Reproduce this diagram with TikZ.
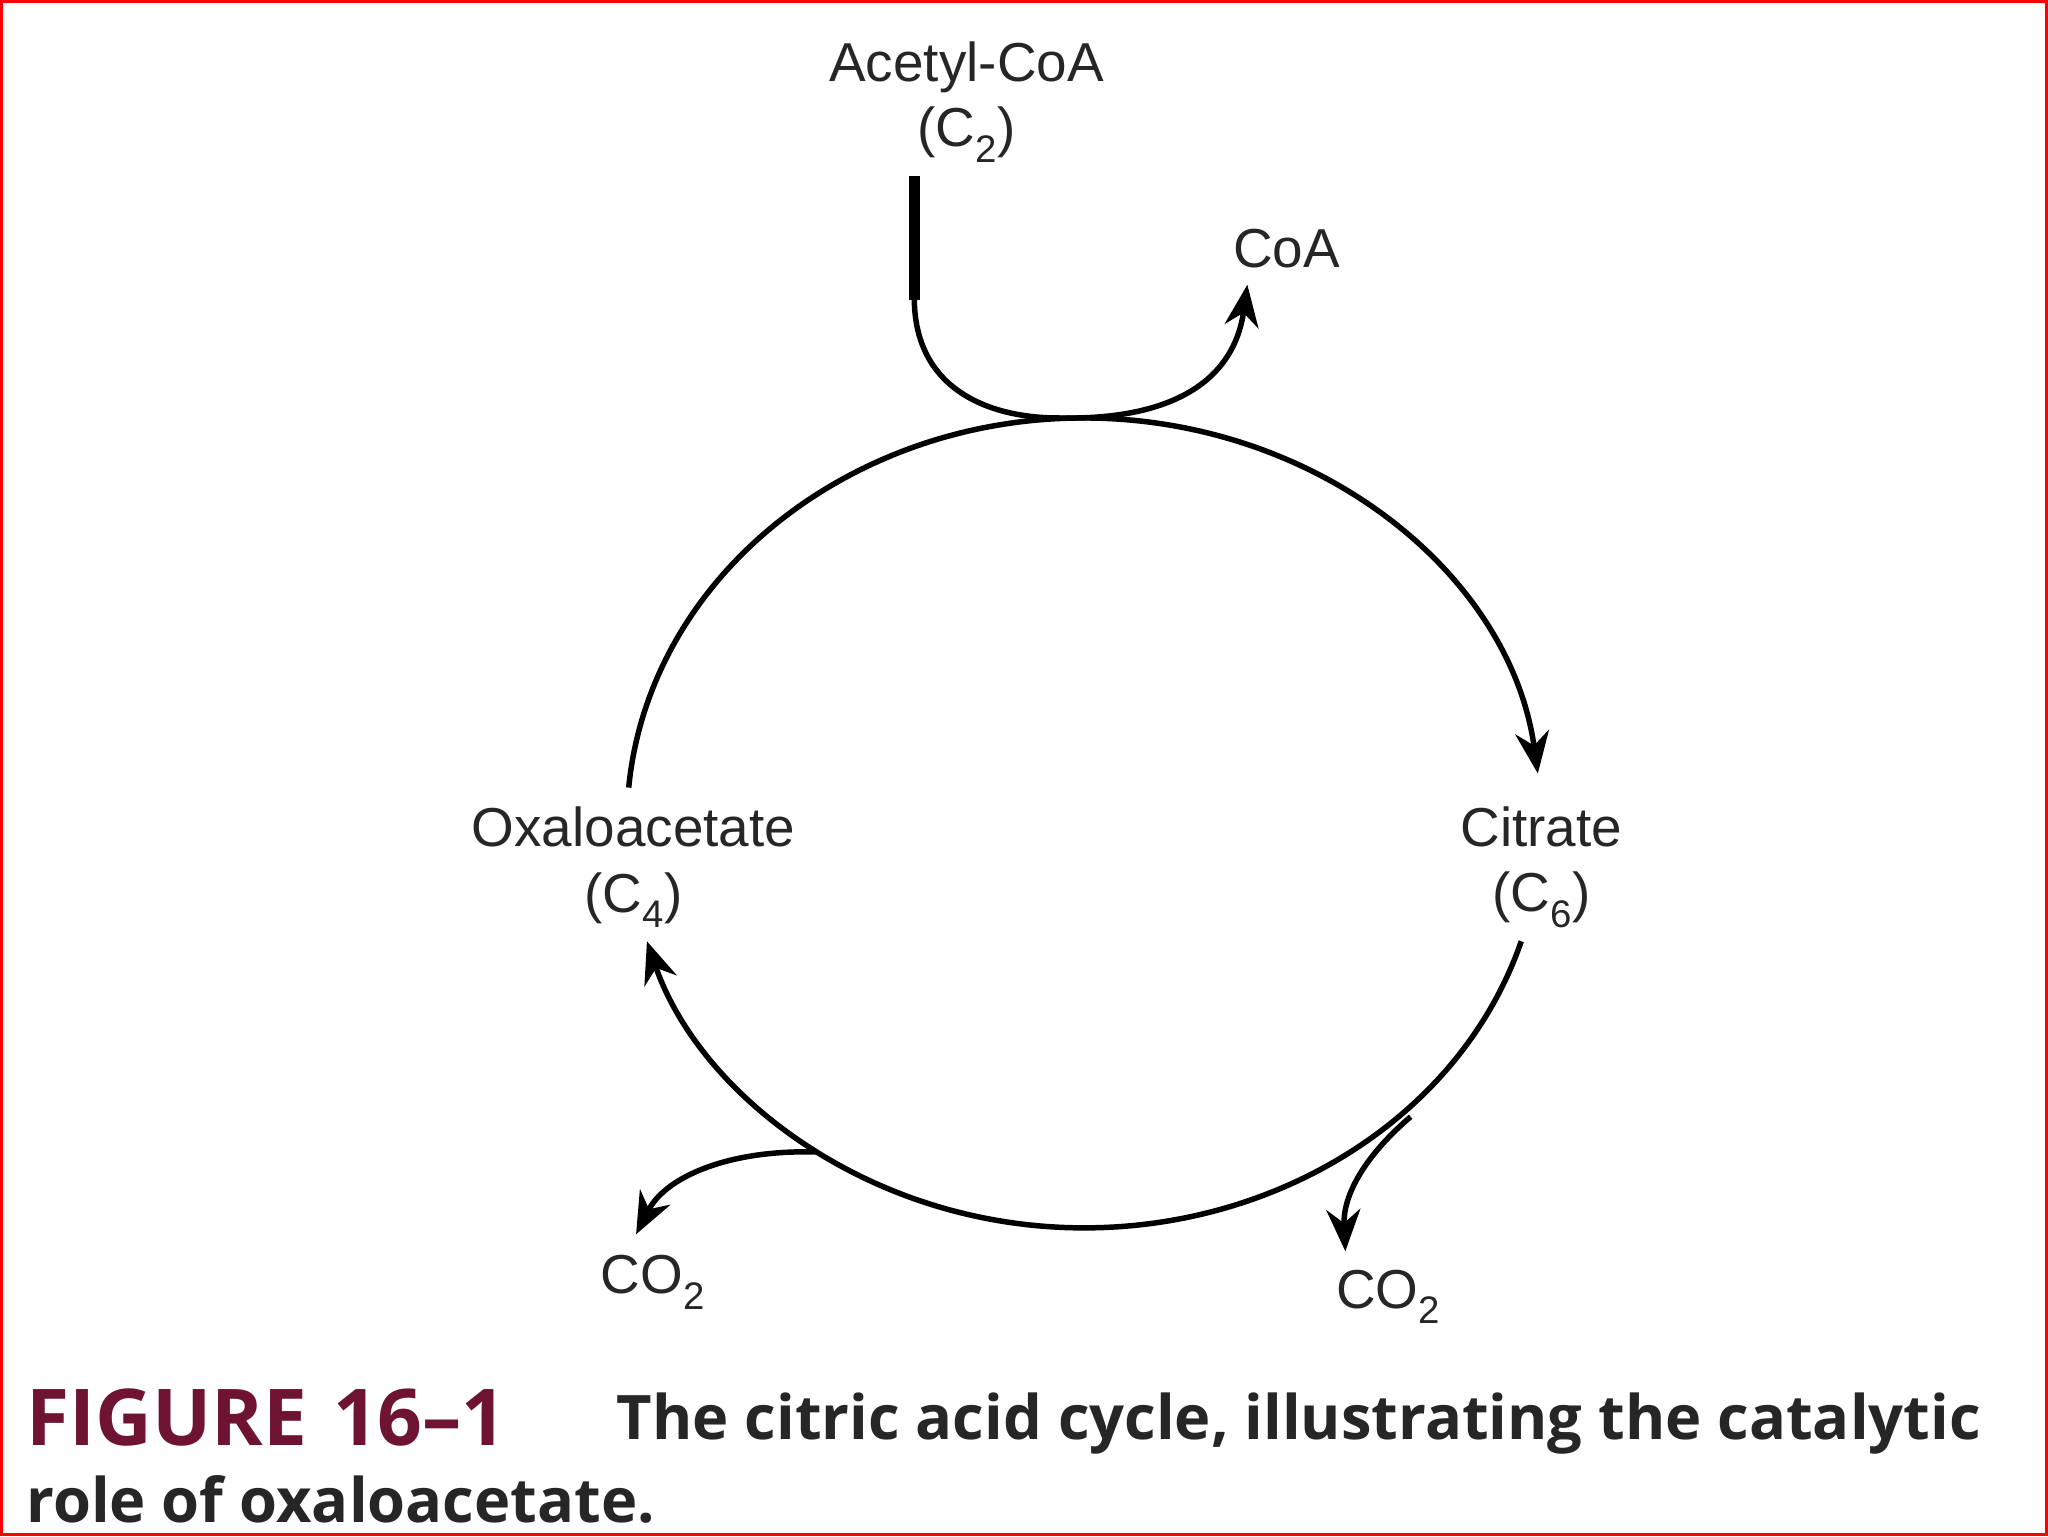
\documentclass[tikz,border=0pt]{standalone}
\usepackage{fontspec}
\setmainfont{Liberation Sans}
\newfontfamily\capfont{Open Sans}
\usetikzlibrary{arrows.meta}
\definecolor{maroon}{RGB}{110,20,50}
\begin{document}
\begin{tikzpicture}[x=1pt,y=-1pt,
  lbl/.style={font=\fontsize{42}{50}\selectfont,align=center,inner sep=0,text=black!85},
  cyc/.style={line width=4.2pt,-{Stealth[length=32pt,width=26pt]}}]
\fill[white] (0,0) rectangle (1568,1176);
\draw[red,line width=2pt] (1,1) rectangle (1567,1175);
\useasboundingbox (0,0) rectangle (1568,1176);
\coordinate (c) at (830,630);
\node[lbl] (acetyl) at (740,78) {Acetyl-CoA\\(C\textsubscript{2})};
\node[lbl] (coa) at (985,190) {CoA};
\node[lbl] (oxa) at (485,664) {Oxaloacetate\\(C\textsubscript{4})};
\node[lbl] (cit) at (1180,664) {Citrate\\(C\textsubscript{6})};
\node[lbl] (co2a) at (500,982) {CO\textsubscript{2}};
\node[lbl] (co2b) at (1063,993) {CO\textsubscript{2}};
\coordinate (top) at (810,320);
\coordinate (b1) at (1080,855);
\coordinate (b2) at (625,882);
\draw[cyc] ([shift={(175:350 and -310)}]c) arc[start angle=175,end angle=7,x radius=350,y radius=-310];
\draw[cyc] ([shift={(-17:350 and -310)}]c) arc[start angle=-17,end angle=-163,x radius=350,y radius=-310];
\draw[line width=8pt] (700,135) -- (700,230);
\draw[cyc] (700,228) .. controls (700,300) and (760,320) .. (top)
  .. controls (900,322) and (945,290) .. (955,218);
\draw[cyc] (b1) .. controls (1045,885) and (1028,915) .. (1030,958);
\draw[cyc] (b2) .. controls (560,880) and (510,900) .. (487,945);
\node[anchor=west,inner sep=0,font=\capfont\bfseries\fontsize{60}{60}\selectfont,text=maroon] (fig) at (20,1085) {FIGURE\,\,16–1};
\node[anchor=west,inner sep=0,font=\capfont\bfseries\fontsize{47}{54}\selectfont,text=black!85] (cap1) at (472,1090) {The citric acid cycle, illustrating the catalytic};
\node[anchor=west,inner sep=0,font=\capfont\bfseries\fontsize{47}{54}\selectfont,text=black!85] (cap2) at (20,1148) {role of oxaloacetate.};
\end{tikzpicture}
\end{document}
